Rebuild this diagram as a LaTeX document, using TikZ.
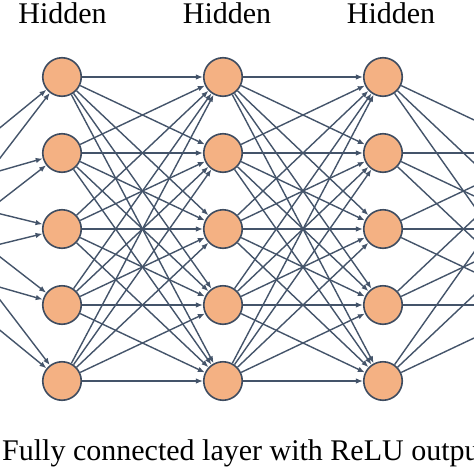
\documentclass[tikz,border=0pt]{standalone}
\usepackage{fontspec}
\setmainfont{Liberation Serif}
\usetikzlibrary{arrows.meta}
\definecolor{edgec}{HTML}{44546A}
\definecolor{nodefill}{HTML}{F4B183}
\definecolor{nodeborder}{HTML}{3E4C60}
\begin{document}
\begin{tikzpicture}[x=1pt,y=-1pt,
  neuron/.style={circle, draw=nodeborder, fill=nodefill, line width=1.6pt, minimum size=38.5pt, inner sep=0pt},
  conn/.style={draw=edgec, line width=1.4pt, -{Latex[length=7pt,width=5.5pt]}},
  plainconn/.style={draw=edgec, line width=1.4pt},
  layerlabel/.style={font=\fontsize{30}{36}\selectfont, inner sep=0pt, anchor=base},
  captiontext/.style={font=\fontsize{30}{36}\selectfont, inner sep=0pt, anchor=base west},
]
\fill[white] (0,0) rectangle (474,474);
\useasboundingbox (0,0) rectangle (474,474);
\begin{scope}
\clip (0,0) rectangle (474,474);
% off-picture input and output positions
\coordinate (in1) at (-81,194);
\coordinate (in2) at (-81,264);
\coordinate (o1) at (544,153);
\coordinate (o2) at (544,229);
\coordinate (o3) at (544,305);
% neurons
\foreach \c/\x in {1/62,2/223,3/383}
  \foreach \r/\y in {1/77,2/153,3/229,4/305,5/381}
    \node[neuron] (h\c\r) at (\x,\y) {};
% connections
\foreach \i in {1,2}
  \foreach \r in {1,...,5}
    \draw[conn] (in\i) -- (h1\r);
\foreach \a in {1,...,5}
  \foreach \b in {1,...,5}
    \draw[conn] (h1\a) -- (h2\b);
\foreach \a in {1,...,5}
  \foreach \b in {1,...,5}
    \draw[conn] (h2\a) -- (h3\b);
\foreach \a in {1,...,5}
  \foreach \o in {1,2,3}
    \draw[plainconn] (h3\a) -- (o\o);
% labels
\node[layerlabel] (lab1) at (62.5,23) {Hidden};
\node[layerlabel] (lab2) at (227,23) {Hidden};
\node[layerlabel] (lab3) at (391,23) {Hidden};
\node[captiontext] (cap) at (2,460) {Fully connected layer with ReLU outpu};
\end{scope}
\end{tikzpicture}
\end{document}
